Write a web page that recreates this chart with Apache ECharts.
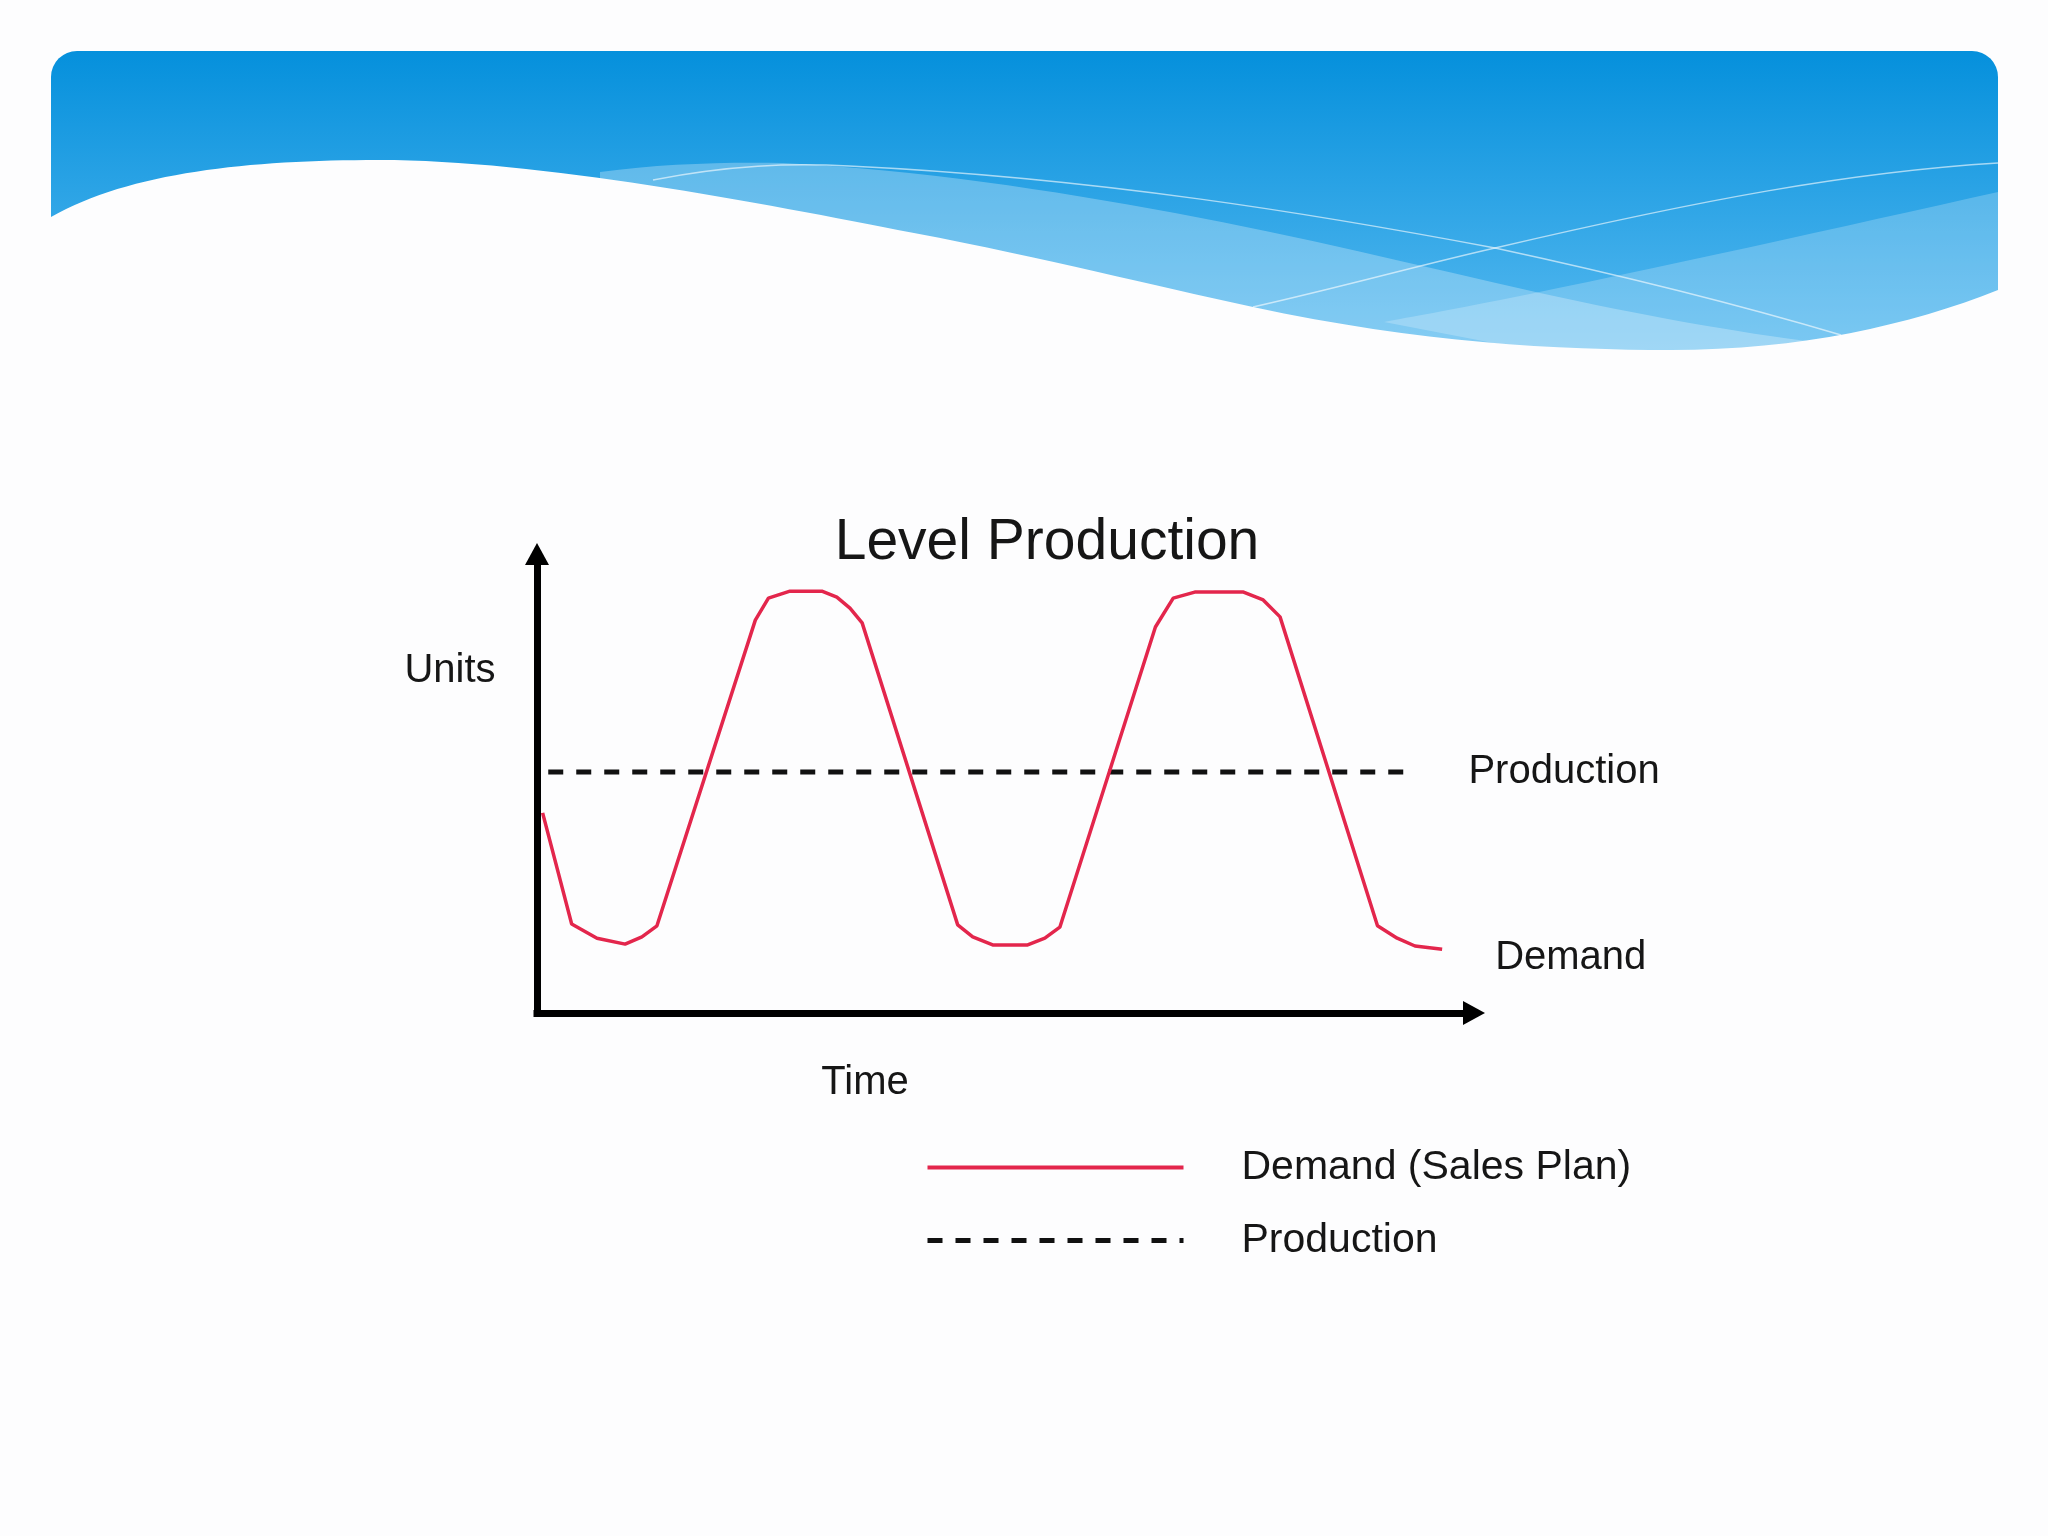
<!DOCTYPE html>
<html>
<head>
<meta charset="utf-8">
<title>Level Production</title>
<script src="https://cdn.jsdelivr.net/npm/echarts@6.0.0/dist/echarts.min.js"></script>
<style>
  html, body { margin: 0; padding: 0; background: #fdfdfe; }
  #chart { width: 2048px; height: 1536px; }
</style>
</head>
<body>
<div id="chart"></div>
<script>
  // time axis (0-100) and units (0-100)
  const demandTime = [0.6, 3.7, 6.4, 9.4, 11.2, 12.8, 23.3, 24.7, 27.0, 30.4, 32.0, 33.4, 34.7,
    44.9, 46.5, 48.7, 52.3, 54.2, 55.8, 66.0, 67.9, 70.2, 75.4, 77.5, 79.3, 89.7, 91.8, 93.7, 96.6];
  const demandUnits = [43.6, 19.4, 16.3, 15.0, 16.6, 19.0, 85.6, 90.4, 91.9, 91.9, 90.6, 88.2, 85.0,
    19.2, 16.6, 14.8, 14.8, 16.3, 18.7, 84.1, 90.4, 91.7, 91.7, 90.0, 86.3, 19.0, 16.3, 14.6, 13.9];
  const productionTime = [1.2, 93.0];
  const productionUnits = [52.5, 52.5];

  const FONT = "'Liberation Sans', Arial, Helvetica, sans-serif";
  const TEXT = '#161616';
  const RED = '#e3264c';

  const pairs = (xs, ys) => xs.map((x, i) => [x, ys[i]]);

  const bareAxis = {
    type: 'value',
    min: 0,
    max: 100,
    axisLine: {
      show: true,
      onZero: false,
      symbol: ['none', 'triangle'],
      symbolSize: [24, 22],
      lineStyle: { color: '#000', width: 7, cap: 'square' }
    },
    axisTick: { show: false },
    axisLabel: { show: false },
    splitLine: { show: false }
  };

  // slide banner behind the chart (decoration only)
  function renderBanner() {
    const wavePath = (d, style) => ({ type: 'path', shape: { pathData: d }, style: style });
    return {
      type: 'group',
      silent: true,
      children: [
        {
          type: 'rect',
          shape: { x: 51, y: 51, width: 1947, height: 320, r: [26, 26, 0, 0] },
          style: {
            fill: new echarts.graphic.LinearGradient(0, 0, 0, 1, [
              { offset: 0, color: '#0590dc' },
              { offset: 1, color: '#5cbcf1' }
            ])
          }
        },
        wavePath('M600,172 C660,164 720,162 783,163 C920,170 1050,190 1175,213 C1300,236 1420,266 1540,293 C1640,315 1740,333 1815,342 L1815,440 L600,440 Z',
          { fill: 'rgba(255,255,255,0.28)' }),
        wavePath('M1998,192 C1850,225 1650,270 1500,300 C1450,310 1410,317 1384,322 L1998,440 Z',
          { fill: 'rgba(255,255,255,0.22)' }),
        wavePath('M653,180 C730,165 790,163 849,166 C1100,178 1320,215 1495,248 C1620,275 1740,305 1841,335',
          { fill: null, stroke: 'rgba(255,255,255,0.6)', lineWidth: 1.5 }),
        wavePath('M1253,307 C1350,285 1420,265 1495,248 C1700,200 1850,172 1998,163',
          { fill: null, stroke: 'rgba(255,255,255,0.6)', lineWidth: 1.5 }),
        wavePath('M51,217 C130,172 250,160 379,160 C540,160 760,203 914,233 C1050,259 1150,285 1253,307 C1420,343 1560,350 1671,350 C1800,350 1910,325 1998,290 L1998,440 L51,440 Z',
          { fill: '#fdfdfe' })
      ]
    };
  }

  const axisTexts = [
    {
      type: 'text', silent: true,
      style: {
        text: 'Units', x: 450, y: 671, font: '40px ' + FONT, fill: TEXT,
        align: 'center', verticalAlign: 'middle', textAlign: 'center', textVerticalAlign: 'middle'
      }
    },
    {
      type: 'text', silent: true,
      style: {
        text: 'Time', x: 865, y: 1083, font: '40px ' + FONT, fill: TEXT,
        align: 'center', verticalAlign: 'middle', textAlign: 'center', textVerticalAlign: 'middle'
      }
    }
  ];

  const chart = echarts.init(document.getElementById('chart'), null, { renderer: 'canvas' });

  chart.setOption({
    backgroundColor: '#fdfdfe',
    animation: false,
    textStyle: { fontFamily: FONT },
    title: {
      text: 'Level Production',
      left: 1042,
      top: 510,
      textAlign: 'center',
      textStyle: { fontSize: 57, fontWeight: 'normal', color: TEXT, fontFamily: FONT }
    },
    grid: {
      left: 537,
      top: 554,
      width: 937,
      height: 459,
      outerBoundsMode: 'none',
      containLabel: false
    },
    xAxis: bareAxis,
    yAxis: bareAxis,
    legend: {
      orient: 'vertical',
      left: 920,
      top: 1142,
      itemWidth: 256,
      itemHeight: 2,
      itemGap: 32,
      selectedMode: false,
      data: [
        { name: 'Demand (Sales Plan)', lineStyle: { width: 4 } },
        { name: 'Production', lineStyle: { width: 5 } }
      ],
      itemStyle: { opacity: 0 },
      textStyle: { fontSize: 41, color: TEXT, fontFamily: FONT, padding: [0, 0, 0, 53] }
    },
    graphic: { elements: axisTexts },
    series: [
      {
        name: 'banner',
        type: 'custom',
        coordinateSystem: 'none',
        silent: true,
        data: [[0]],
        renderItem: renderBanner,
        z: 0
      },
      {
        name: 'Demand (Sales Plan)',
        type: 'line',
        symbol: 'none',
        data: pairs(demandTime, demandUnits),
        lineStyle: { color: RED, width: 3.5 },
        itemStyle: { color: RED },
        endLabel: {
          show: true,
          formatter: 'Demand',
          distance: 53,
          offset: [0, 9],
          fontSize: 40,
          color: TEXT,
          fontFamily: FONT
        },
        z: 3
      },
      {
        name: 'Production',
        type: 'line',
        symbol: 'none',
        data: pairs(productionTime, productionUnits),
        lineStyle: { color: '#111', width: 5, type: [15, 13] },
        itemStyle: { color: '#111' },
        endLabel: {
          show: true,
          formatter: 'Production',
          distance: 60,
          fontSize: 40,
          color: TEXT,
          fontFamily: FONT
        },
        z: 2
      }
    ]
  });
</script>
</body>
</html>
